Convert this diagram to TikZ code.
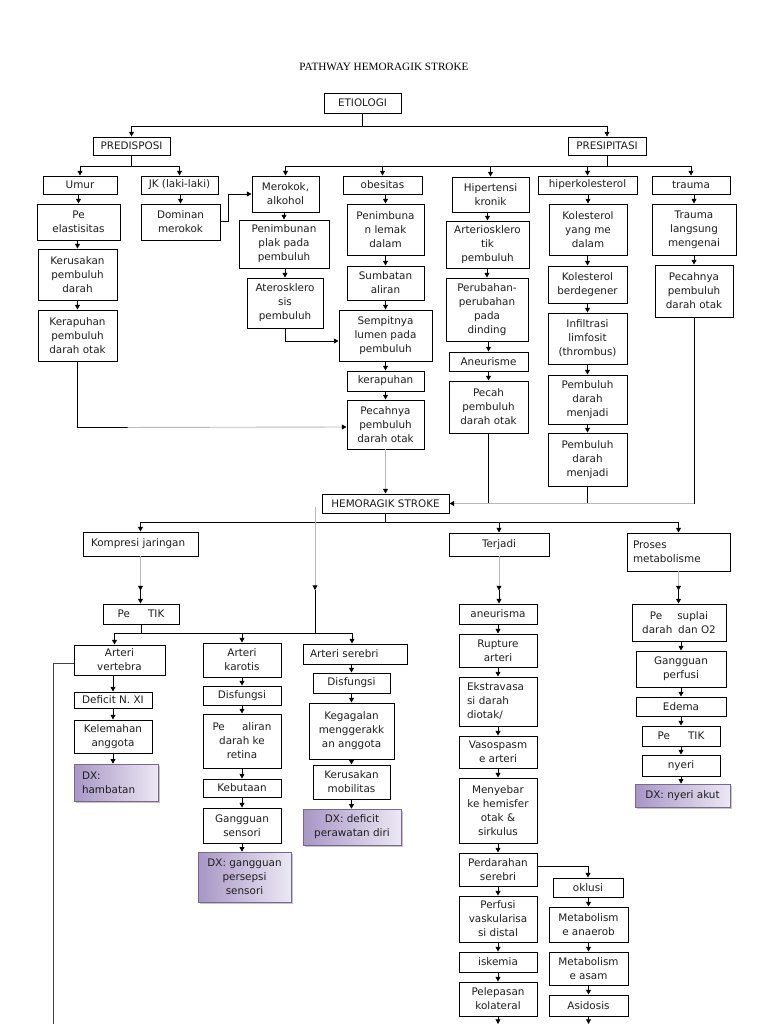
\documentclass[tikz,border=0pt]{standalone}
\usepackage{fontspec}
\setmainfont{DejaVu Sans}
\newfontfamily\titlefont{Liberation Serif}
\usetikzlibrary{arrows.meta,shadows}
\definecolor{dxdark}{RGB}{168,150,198}
\definecolor{dxlight}{RGB}{236,232,244}
\definecolor{dxline}{RGB}{120,105,140}
\definecolor{txt}{RGB}{30,30,30}
\newcommand\BX[7][]{\node[box,minimum width={(#4)-(#2)},minimum height={(#5)-(#3)},#1] (#6) at ({((#2)+(#4))/2},{((#3)+(#5))/2}) {#7};}
\newcommand\VA[2]{\draw[arr] (#2.north |- #1.south) -- (#2.north);}
\begin{document}
\begin{tikzpicture}[x=1pt,y=-1pt,
 box/.style={draw=black,line width=0.95pt,fill=white,inner sep=1pt,align=center,text=txt,font=\fontsize{10.4}{14}\selectfont},
 lbox/.style={align=left,inner xsep=0pt},
 dx/.style={draw=dxline,line width=0.6pt,left color=dxdark,right color=dxlight,drop shadow={shadow xshift=1.6pt,shadow yshift=-1.6pt,fill=black!45}},
 ln/.style={line width=0.9pt,draw=black},
 arr/.style={ln,-{Triangle[length=4.6pt,width=4.8pt]}},
 gln/.style={line width=0.9pt,draw=black!28},
 garr/.style={gln,-{Triangle[length=4.6pt,width=4.8pt,color=black]}}]
\fill[white] (0,0) rectangle (768,1024);
\useasboundingbox (0,0) rectangle (768,1024);

\node[font=\titlefont\fontsize{11.2}{13}\selectfont,text=black] (title) at (384,67) {PATHWAY HEMORAGIK STROKE};

% ---- top
\BX{324}{93}{401}{113}{etio}{ETIOLOGI}
\BX{93}{137}{170}{155}{predis}{PREDISPOSI}
\BX{568}{137}{646}{155}{presip}{PRESIPITASI}
\path (etio.south) ++(0,13) coordinate (eb);
\draw[ln] (etio.south) -- (eb);
\draw[arr] (eb) -| (predis.north);
\draw[arr] (eb) -| (presip.north);

% ---- level 2
\BX{43}{176}{117}{194}{umur}{Umur}
\BX{141}{176}{218}{194}{jk}{JK (laki-laki)}
\BX{252}{176}{319}{212}{merokok}{Merokok,\\alkohol}
\BX{343}{176}{422}{194}{obes}{obesitas}
\BX{452}{177}{529}{212}{hiper}{Hipertensi\\kronik}
\BX{538}{176}{637}{194}{kol}{hiperkolesterol}
\BX{652}{176}{730}{194}{trauma}{trauma}
\path (predis.south) ++(0,11) coordinate (pb);
\draw[ln] (predis.south) -- (pb);
\draw[arr] (pb) -| (umur.north);
\draw[arr] (pb) -| (jk.north);
\path (presip.south) ++(0,11) coordinate (sb);
\draw[ln] (presip.south) -- (sb);
\foreach \n in {merokok,obes,hiper,kol,trauma} {\draw[arr] (sb) -| (\n.north);}

% ---- columns
\BX{37}{204}{120}{240}{pe1}{Pe\\elastisitas}
\BX{38}{249}{117}{300}{rusak}{Kerusakan\\pembuluh\\darah}
\BX{38}{310}{117}{361}{rapuh}{Kerapuhan\\pembuluh\\darah otak}
\BX{141}{204}{220}{240}{dom}{Dominan\\merokok}
\BX{239}{220}{329}{268}{plak}{Penimbunan\\plak pada\\pembuluh}
\BX{247}{278}{323}{328}{ater}{Aterosklero\\sis\\pembuluh}
\BX{347}{204}{424}{255}{lemak}{Penimbuna\\n lemak\\dalam}
\BX{347}{266}{424}{300}{sumbat}{Sumbatan\\aliran}
\BX{339}{310}{432}{361}{sempit}{Sempitnya\\lumen pada\\pembuluh}
\BX{347}{371}{424}{391}{krp}{kerapuhan}
\BX{347}{400}{424}{449}{pecah1}{Pecahnya\\pembuluh\\darah otak}
\BX{446}{221}{529}{268}{arterio}{Arteriosklero\\tik\\pembuluh}
\BX{446}{278}{528}{341}{rubah}{Perubahan-\\perubahan\\pada\\dinding}
\BX{449}{352}{528}{371}{aneu}{Aneurisme}
\BX{449}{381}{528}{433}{pecah2}{Pecah\\pembuluh\\darah otak}
\BX{549}{204}{627}{255}{kol1}{Kolesterol\\yang me\\dalam}
\BX{548}{266}{627}{303}{kol2}{Kolesterol\\berdegener}
\BX{548}{313}{627}{364}{infil}{Infiltrasi\\limfosit\\(thrombus)}
\BX{548}{375}{627}{424}{pd1}{Pembuluh\\darah\\menjadi}
\BX{548}{433}{627}{486}{pd2}{Pembuluh\\darah\\menjadi}
\BX{652}{204}{736}{255}{tr1}{Trauma\\langsung\\mengenai}
\BX{655}{265}{733}{317}{tr2}{Pecahnya\\pembuluh\\darah otak}

\VA{umur}{pe1}\VA{pe1}{rusak}\VA{rusak}{rapuh}
\VA{jk}{dom}
\VA{merokok}{plak}\VA{plak}{ater}
\VA{obes}{lemak}\VA{lemak}{sumbat}\VA{sumbat}{sempit}\VA{sempit}{krp}\VA{krp}{pecah1}
\VA{hiper}{arterio}\VA{arterio}{rubah}\VA{rubah}{aneu}\VA{aneu}{pecah2}
\VA{kol}{kol1}\VA{kol1}{kol2}\VA{kol2}{infil}\VA{infil}{pd1}\VA{pd1}{pd2}
\VA{trauma}{tr1}\VA{tr1}{tr2}

\draw[arr] ([yshift=1pt]dom.east) -- ++(8,0) |- (merokok.west);
\draw[arr] (ater.south) |- ([yshift=-5.5pt]sempit.west);
\path (rapuh.south) ++(0,66) coordinate (rc);
\draw[ln] (rapuh.south) -- (rc) -- ++(50,0) coordinate (rc2);
\draw[garr] (rc2) -- ([yshift=-2.5pt]pecah1.west);

% ---- hemoragik stroke
\BX{322}{494}{449}{513}{hemo}{HEMORAGIK STROKE}
\draw[garr] (pecah1.south) -- (pecah1.south |- hemo.north);
\draw[ln] (pecah2.south) -- (pecah2.south |- hemo.east);
\draw[ln] (pd2.south) -- (pd2.south |- hemo.east);
\draw[ln] (tr2.south) -- (tr2.south |- hemo.east);
\draw[garr] (tr2.south |- hemo.east) -- (hemo.east);

\BX[lbox,text width=99]{83}{532}{198}{556}{komp}{Kompresi jaringan}
\BX{449}{533}{549}{556}{terj}{Terjadi}
\BX[lbox,text width=91]{627}{533}{730}{571}{proses}{Proses\\metabolisme}
\path (hemo.south) ++(0,9) coordinate (hb);
\draw[ln] (hemo.south) -- (hb);
\draw[arr] (hb) -| (komp.north);
\draw[arr] (hb) -| (terj.north);
\draw[arr] (hb) -| (proses.north);

% ---- Pe TIK branch
\BX{103}{604}{179}{624}{ptik}{Pe\hspace{1.75em}TIK}
\path (komp.south) ++(0,34) coordinate (k1);
\draw[garr] (komp.south) -- (k1);
\draw[arr] (k1) -- (k1 |- ptik.north);

\BX{74}{645}{165}{675}{av}{Arteri\\vertebra}
\BX{203}{643}{281}{677}{ak}{Arteri\\karotis}
\BX[lbox,text width=90]{303}{644}{407}{664}{as}{Arteri serebri}
\path (ptik.south) ++(0,9) coordinate (tb);
\draw[ln] (ptik.south) -- (tb);
\draw[arr] (tb) -| ([xshift=-5pt]av.north);
\draw[arr] (tb) -| (ak.north);
\draw[arr] (tb) -| ([xshift=-3pt]as.north);
\coordinate (h1) at (315,507);
\coordinate (h2) at (315,590);
\draw[garr] (h1) -- (h2);
\draw[ln] (h2) -- (h2 |- tb);

\BX{74}{692}{152}{708}{dn}{Deficit N. XI}
\BX{74}{720}{152}{753}{kel}{Kelemahan\\anggota}
\BX[dx,lbox,text width=68]{74}{764}{158}{801}{dx1}{DX:\\hambatan}
\draw[arr] (dn.north |- av.south) -- (dn.north);
\VA{dn}{kel}
\draw[arr] (kel.south) -- (kel.south |- dx1.north);
\coordinate (lb) at (53,1024);
\draw[ln,draw=black!75] ([yshift=-3pt]av.west) -| (lb);

\BX{203}{686}{281}{705}{dis1}{Disfungsi}
\BX{203}{714}{281}{768}{aliran}{Pe\hspace{1.65em}aliran\\darah ke\\retina}
\BX{203}{779}{281}{797}{kebut}{Kebutaan}
\BX{203}{808}{281}{843}{gsens}{Gangguan\\sensori}
\BX[dx]{198}{852}{291}{902}{dx2}{DX: gangguan\\persepsi\\sensori}
\VA{ak}{dis1}\VA{dis1}{aliran}\VA{aliran}{kebut}\VA{kebut}{gsens}
\draw[arr] (gsens.south) -- (gsens.south |- dx2.north);

\BX{313}{673}{390}{693}{dis2}{Disfungsi}
\BX{309}{703}{394}{759}{gagal}{Kegagalan\\menggerakk\\an anggota}
\BX{313}{765}{390}{799}{rmob}{Kerusakan\\mobilitas}
\BX[dx]{303}{809}{401}{845}{dx3}{DX: deficit\\perawatan diri}
\draw[arr] (dis2.north |- as.south) -- (dis2.north);
\VA{dis2}{gagal}\VA{gagal}{rmob}
\draw[arr] (rmob.south) -- (rmob.south |- dx3.north);

% ---- Terjadi branch
\BX{459}{604}{537}{624}{aneur}{aneurisma}
\path (terj.south) ++(0,34) coordinate (t1);
\draw[garr] (terj.south) -- (t1);
\draw[arr] (t1) -- (t1 |- aneur.north);
\BX{459}{634}{537}{667}{rupt}{Rupture\\arteri}
\BX[lbox,text width=62]{459}{677}{537}{726}{ekst}{Ekstravasa\\si darah\\diotak/}
\BX{459}{736}{537}{768}{vaso}{Vasospasm\\e arteri}
\BX{459}{778}{537}{843}{meny}{Menyebar\\ke hemisfer\\otak \&\\sirkulus}
\BX{459}{853}{537}{886}{perd}{Perdarahan\\serebri}
\BX{459}{896}{537}{942}{perf}{Perfusi\\vaskularisa\\si distal}
\BX{459}{952}{537}{972}{isk}{iskemia}
\BX{459}{982}{537}{1016}{pelep}{Pelepasan\\kolateral}
\VA{aneur}{rupt}\VA{rupt}{ekst}\VA{ekst}{vaso}\VA{vaso}{meny}\VA{meny}{perd}
\VA{perd}{perf}\VA{perf}{isk}\VA{isk}{pelep}
\BX{553}{878}{623}{897}{okl}{oklusi}
\BX{549}{907}{628}{942}{meta1}{Metabolism\\e anaerob}
\BX{549}{952}{628}{985}{meta2}{Metabolism\\e asam}
\BX{549}{995}{628}{1016}{asid}{Asidosis}
\draw[arr] ([yshift=3.5pt]perd.east) -| (okl.north);
\VA{okl}{meta1}\VA{meta1}{meta2}\VA{meta2}{asid}
\draw[arr] (pelep.south) -- ++(0,7.5);
\draw[arr] (asid.south) -- ++(0,7.5);

% ---- Proses branch
\BX{632}{604}{726}{641}{sup}{Pe\hspace{1.45em}suplai\\darah\hspace{0.55em}dan O2}
\path (proses.south) ++(0,19) coordinate (q1);
\draw[garr] (proses.south) -- (q1);
\draw[arr] (q1) -- (q1 |- sup.north);
\BX{636}{651}{726}{687}{gperf}{Gangguan\\perfusi}
\BX{636}{697}{726}{716}{edema}{Edema}
\BX{642}{726}{720}{746}{ptik2}{Pe\hspace{1.75em}TIK}
\BX{642}{755}{720}{776}{nyeri}{nyeri}
\BX[dx]{635}{784}{730}{807}{dx4}{DX: nyeri akut}
\VA{sup}{gperf}\VA{gperf}{edema}\VA{edema}{ptik2}\VA{ptik2}{nyeri}
\draw[arr] (nyeri.south) -- (nyeri.south |- dx4.north);
\end{tikzpicture}
\end{document}
